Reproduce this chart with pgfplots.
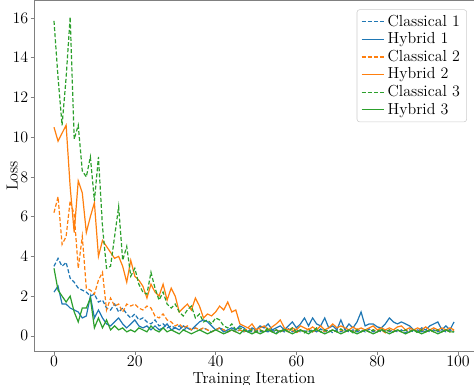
\documentclass[12pt,border=0pt]{standalone}
\usepackage{pgfplots}
\usepackage{pgfplotstable}
\pgfplotsset{compat=1.18}
\definecolor{c0}{HTML}{1F77B4}
\definecolor{c1}{HTML}{FF7F0E}
\definecolor{c2}{HTML}{2CA02C}
\pgfplotstableread{
i c1 h1 c2 h2 c3 h3
0 3.5 2.2 6.2 10.5 15.85 3.4
1 3.9 2.5 7.0 9.8 13.0 2.3
2 3.5 1.6 4.6 10.2 10.6 2.0
3 3.7 1.6 5.0 10.6 13.0 1.7
4 2.9 1.4 6.8 7.5 16.05 2.0
5 2.7 1.3 6.1 5.2 9.9 1.2
6 2.4 1.2 3.4 7.8 10.6 0.7
7 2.3 0.9 5.0 7.2 8.3 1.4
8 2.2 1.0 2.4 5.2 8.0 1.4
9 2.0 2.0 2.3 6.0 9.0 1.9
10 2.1 0.9 2.1 6.7 6.8 0.4
11 1.7 1.3 2.8 4.0 9.0 0.9
12 1.8 0.9 3.2 4.8 5.5 0.4
13 1.4 0.6 1.3 4.5 3.4 0.8
14 1.3 0.5 1.9 4.2 3.5 0.3
15 1.6 0.7 1.5 3.9 5.0 0.5
16 1.2 0.9 1.6 4.0 6.5 0.3
17 1.4 0.6 1.2 3.5 3.8 0.4
18 1.1 0.4 1.6 2.7 4.5 0.2
19 0.9 0.6 1.5 3.8 3.0 0.3
20 1.1 0.8 1.6 3.0 3.4 0.2
21 0.8 0.5 1.4 2.8 2.6 0.4
22 0.9 0.4 1.3 2.5 2.2 0.3
23 0.7 0.5 1.5 1.9 2.1 0.2
24 0.6 0.3 1.4 2.6 3.2 0.5
25 0.8 0.5 1.0 2.2 2.4 0.3
26 0.5 0.3 0.9 2.0 1.8 0.2
27 0.6 0.4 1.1 2.6 2.2 0.4
28 0.4 0.6 0.8 1.8 1.6 0.2
29 0.5 0.3 0.7 2.4 1.4 0.3
30 0.4 0.4 0.5 2.0 1.6 0.2
31 0.5 0.3 0.6 1.2 1.2 0.1
32 0.3 0.5 0.4 1.4 1.0 0.3
33 0.4 0.4 0.5 1.6 1.3 0.2
34 0.3 0.3 0.3 1.3 1.5 0.1
35 0.4 0.5 0.4 1.9 0.9 0.2
36 0.3 0.7 0.3 1.5 1.1 0.3
37 0.4 0.8 0.4 0.9 0.7 0.2
38 0.3 0.7 0.3 1.1 0.8 0.1
39 0.2 0.5 0.2 1.0 0.6 0.2
40 0.3 0.3 0.3 1.2 0.9 0.3
41 0.4 0.4 0.4 1.5 0.8 0.2
42 0.3 0.2 0.3 1.3 0.5 0.1
43 0.2 0.3 0.2 1.7 0.4 0.2
44 0.3 0.4 0.3 1.2 0.6 0.3
45 0.2 0.3 0.2 1.3 0.3 0.2
46 0.3 0.5 0.3 0.6 0.4 0.1
47 0.2 0.4 0.2 0.5 0.3 0.3
48 0.3 0.2 0.4 0.4 0.2 0.2
49 0.2 0.4 0.3 0.6 0.3 0.1
50 0.3 0.3 0.2 0.3 0.2 0.2
51 0.2 0.5 0.3 0.4 0.3 0.1
52 0.25 0.4 0.2 0.5 0.2 0.2
53 0.2 0.6 0.35 0.3 0.4 0.3
54 0.3 0.3 0.2 0.45 0.2 0.2
55 0.15 0.4 0.3 0.6 0.3 0.1
56 0.3 0.5 0.2 0.8 0.2 0.25
57 0.2 0.3 0.3 0.4 0.35 0.3
58 0.35 0.5 0.2 0.3 0.2 0.2
59 0.2 0.7 0.3 0.4 0.4 0.1
60 0.3 0.4 0.15 0.3 0.2 0.2
61 0.2 0.6 0.3 0.5 0.3 0.3
62 0.25 0.9 0.2 0.4 0.15 0.2
63 0.2 0.5 0.35 0.3 0.3 0.1
64 0.3 0.9 0.2 0.45 0.2 0.25
65 0.2 0.6 0.3 0.3 0.4 0.3
66 0.35 0.5 0.2 0.5 0.2 0.2
67 0.2 0.9 0.25 0.3 0.3 0.1
68 0.3 0.4 0.2 0.4 0.2 0.2
69 0.15 0.5 0.3 0.6 0.3 0.3
70 0.3 0.3 0.2 0.4 0.2 0.2
71 0.2 0.8 0.3 0.5 0.35 0.1
72 0.3 0.3 0.2 0.4 0.2 0.2
73 0.2 0.6 0.3 0.3 0.3 0.3
74 0.3 0.4 0.2 0.45 0.15 0.2
75 0.2 0.7 0.35 0.3 0.3 0.1
76 0.3 1.2 0.2 0.4 0.2 0.2
77 0.2 0.5 0.3 0.3 0.3 0.3
78 0.35 0.6 0.2 0.4 0.2 0.2
79 0.2 0.6 0.3 0.5 0.3 0.1
80 0.3 0.45 0.2 0.3 0.2 0.2
81 0.2 0.4 0.3 0.4 0.35 0.3
82 0.3 0.6 0.15 0.3 0.2 0.2
83 0.2 0.9 0.3 0.4 0.3 0.1
84 0.3 0.7 0.2 0.3 0.2 0.2
85 0.2 0.6 0.3 0.45 0.3 0.3
86 0.3 0.7 0.2 0.5 0.2 0.2
87 0.15 0.6 0.3 0.3 0.3 0.1
88 0.3 0.5 0.2 0.4 0.2 0.2
89 0.2 0.3 0.35 0.3 0.3 0.3
90 0.3 0.2 0.2 0.4 0.15 0.2
91 0.2 0.4 0.3 0.3 0.3 0.1
92 0.3 0.3 0.2 0.45 0.2 0.2
93 0.2 0.5 0.3 0.3 0.3 0.3
94 0.3 0.6 0.2 0.4 0.2 0.2
95 0.2 0.7 0.3 0.3 0.3 0.1
96 0.3 0.3 0.2 0.4 0.2 0.2
97 0.2 0.5 0.3 0.3 0.3 0.3
98 0.3 0.3 0.2 0.4 0.2 0.2
99 0.2 0.7 0.3 0.3 0.2 0.2
}\loss
\begin{document}
\begin{tikzpicture}
\begin{axis}[
  scale only axis,
  width=330pt, height=263pt,
  xmin=-4.95, xmax=103.95,
  ymin=-0.78, ymax=16.87,
  xtick={0,20,40,60,80,100},
  ytick={0,2,4,6,8,10,12,14,16},
  tick align=outside,
  xtick pos=bottom, ytick pos=left,
  major tick length=2.6pt,
  axis line style={black!50},
  every tick/.style={black!50},
  xticklabel style={yshift=3.5pt},
  yticklabel style={xshift=2.5pt},
  xlabel={Training Iteration},
  ylabel={Loss},
  xlabel style={yshift=3.5pt},
  ylabel style={yshift=-12pt},
  legend cell align=left,
  legend style={at={(0.984,0.975)}, anchor=north east, draw=black!20,
    rounded corners=2pt, fill=white, font=\normalsize,
    row sep=-1pt, inner xsep=3pt, inner ysep=2pt},
]
\addplot[color=c0, line width=0.9pt, dash pattern=on 3pt off 1.6pt] table[x=i,y=c1]{\loss};
\addlegendentry{Classical 1}
\addplot[color=c0, line width=0.9pt, solid] table[x=i,y=h1]{\loss};
\addlegendentry{Hybrid 1}
\addplot[color=c1, line width=0.9pt, dash pattern=on 3pt off 1.6pt] table[x=i,y=c2]{\loss};
\addlegendentry{Classical 2}
\addplot[color=c1, line width=0.9pt, solid] table[x=i,y=h2]{\loss};
\addlegendentry{Hybrid 2}
\addplot[color=c2, line width=0.9pt, dash pattern=on 3pt off 1.6pt] table[x=i,y=c3]{\loss};
\addlegendentry{Classical 3}
\addplot[color=c2, line width=0.9pt, solid] table[x=i,y=h3]{\loss};
\addlegendentry{Hybrid 3}
\end{axis}
\pgfresetboundingbox
\path[use as bounding box] ([xshift=-25.5pt,yshift=-25pt]current axis.south west) rectangle ([yshift=0.5pt]current axis.north east);
\end{tikzpicture}
\end{document}
